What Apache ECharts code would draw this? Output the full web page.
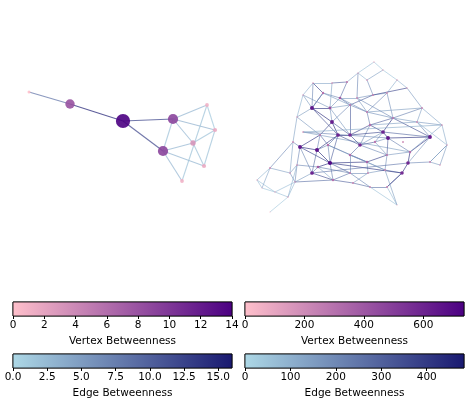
<!DOCTYPE html>
<html><head><meta charset="utf-8">
<script src="https://cdn.jsdelivr.net/npm/echarts@6/dist/echarts.min.js"></script>
<style>html,body{margin:0;padding:0;background:#fff}#c{width:474px;height:406px}</style>
</head><body><div id="c"></div>
<script>
// Left network (small graph)
const leftNodeX = [29, 70, 123, 173, 163, 207, 215, 193, 204, 182];
const leftNodeY = [92, 104, 121, 119, 151, 105, 130, 143, 166, 181];
const leftNodeBet = [0, 8, 14, 9, 9, 1, 1.5, 3, 1.5, 1];
const leftEdges = [[0,1],[1,2],[2,3],[2,4],[3,5],[3,6],[3,7],[3,4],[4,7],[4,8],[4,9],[5,9],[7,6],[7,8],[6,8],[5,6]];
const leftEdgeBet = [9, 16, 13, 13, 3, 3.5, 3, 2, 3, 3, 3, 2, 2, 2, 2, 1.5];
const leftVertexMax = 14, leftEdgeMax = 16;

// Right network (large graph)
const rightNodeX = [374,383,358,347,367,397,407,332,313,303,323,340,357,373,387,312,297,330,350,367,393,422,417,430,442,447,383,388,370,350,338,332,320,300,293,317,328,360,375,350,330,318,297,367,387,410,408,430,440,402,385,368,350,312,290,270,257,262,275,288,295,333,353,370,387,397,270,403,303];
const rightNodeY = [62,70,73,82,80,80,88,83,83,95,93,98,98,95,93,108,117,108,105,112,118,108,122,137,125,145,132,138,125,135,135,122,135,147,142,150,145,145,142,155,163,167,165,162,155,152,163,162,165,173,170,173,173,173,173,168,180,188,192,197,182,180,183,187,187,205,212,142,132];
const rightNodeBet = [60,80,90,250,150,120,100,160,140,110,300,380,200,220,180,650,120,420,260,240,260,200,180,620,150,110,600,640,300,560,600,620,260,640,180,660,300,560,280,320,700,380,160,340,260,300,580,220,140,560,220,200,240,600,150,180,60,50,70,120,140,300,220,200,220,40,20,200,150];
const rightEdges = [[1,2],[1,3],[2,6],[3,4],[3,5],[5,14],[4,8],[4,12],[8,9],[9,10],[9,11],[10,17],[11,16],[11,12],[12,13],[13,14],[14,15],[15,6],[6,7],[7,22],[22,25],[22,23],[25,26],[26,49],[23,24],[24,21],[21,27],[27,28],[28,24],[15,21],[13,20],[20,29],[29,27],[12,19],[19,30],[18,32],[16,18],[16,32],[17,35],[35,34],[34,33],[33,32],[32,31],[31,30],[30,29],[31,37],[37,36],[36,34],[36,41],[41,42],[42,43],[43,55],[55,56],[56,57],[57,58],[58,59],[59,60],[60,61],[61,54],[54,42],[54,62],[62,63],[63,64],[64,65],[65,50],[50,47],[47,48],[48,49],[47,46],[46,24],[46,69],[69,28],[28,45],[45,44],[44,41],[44,40],[40,38],[38,39],[39,27],[38,30],[40,53],[53,52],[52,51],[51,50],[51,45],[53,62],[65,66],[60,67],[56,35],[43,34],[16,10],[19,20],[41,53],[36,33],[70,33],[70,35],[70,16],[18,19],[20,21],[29,38],[31,41],[39,45],[44,52],[26,48],[25,23],[23,21],[17,16],[37,40],[57,59],[64,66],[2,5],[8,18],[22,21],[34,54],[43,61],[12,18],[3,13],[36,54],[62,41],[50,65],[24,47],[7,14],
 [16,31],[32,30],[31,38],[30,27],[27,24],[36,31],[34,41],[41,50],[54,47],[32,19],[19,14],[16,11],[17,33],[35,55],[55,61],[61,62],[42,53],[37,44],[38,45],[39,28],[29,23],[20,22],[13,21],[18,30],[33,37],[37,41],[40,51],[44,51],[45,46],[46,25],[48,26],[52,63],[53,64],[62,42],[17,70],[70,32],[10,18],[11,19],[12,20],[21,29],[28,46],[27,38],[23,26],[59,61],[58,56],[43,60],[66,51],[69,25],[15,20],[9,16]];
const rightEdgeBet = [40,60,50,120,80,180,300,250,120,100,380,90,400,200,150,170,120,100,90,160,120,140,110,150,200,350,420,440,430,180,160,220,380,260,300,160,420,460,130,200,420,360,450,440,380,250,200,450,460,440,200,150,140,90,60,50,60,80,150,200,350,300,260,240,420,430,200,150,440,440,150,200,300,380,420,200,250,300,200,350,200,180,160,200,180,250,60,40,200,200,150,200,300,200,100,120,150,150,180,200,300,150,150,120,160,150,150,100,60,60,140,130,220,200,180,160,200,260,220,300,160,
 380,350,300,320,360,280,400,380,420,250,200,300,150,160,120,180,260,220,240,200,180,140,150,200,160,280,200,180,150,160,120,150,140,200,120,160,180,160,140,170,300,220,160,80,70,120,90,150,110,200];
const rightVertexMax = 737, rightEdgeMax = 482;

function hex(c){return [parseInt(c.slice(1,3),16),parseInt(c.slice(3,5),16),parseInt(c.slice(5,7),16)];}
function interp(c1,c2,t){t=Math.max(0,Math.min(1,t));const a=hex(c1),b=hex(c2);return 'rgb('+a.map((v,i)=>Math.round(v+(b[i]-v)*t)).join(',')+')';}
const V0='#ffc0cb',V1='#4b0082',E0='#add8e6',E1='#191970';

const leftData = leftNodeX.map((x,i)=>({value:[x,leftNodeY[i]],symbolSize:3+leftNodeBet[i]*0.8,
  itemStyle:{color:interp(V0,V1,leftNodeBet[i]/leftVertexMax),opacity:0.9}}));
const leftLinks = leftEdges.map((e,i)=>({source:e[0],target:e[1],
  lineStyle:{color:interp(E0,E1,leftEdgeBet[i]/leftEdgeMax),width:1.1,opacity:0.7}}));
const rightData = rightNodeX.map((x,i)=>({value:[x,rightNodeY[i]],symbolSize:1+rightNodeBet[i]/220,
  itemStyle:{color:interp(V0,V1,rightNodeBet[i]/rightVertexMax)}}));
const rightLinks = rightEdges.map((e,i)=>({source:e[0]-1,target:e[1]-1,
  lineStyle:{color:interp(E0,E1,rightEdgeBet[i]/rightEdgeMax),width:0.9,opacity:0.7}}));

const font='DejaVu Sans';
function barGrid(left,top,width){return {left:left,top:top,width:width,height:14,show:true,borderColor:'#000',borderWidth:0.8};}
function barX(gi,max,interval,name,fmt,showMax){return {gridIndex:gi,type:'value',min:0,max:max,interval:interval,
  axisLine:{show:false},splitLine:{show:false},axisTick:{show:true,length:3,lineStyle:{color:'#000'}},
  axisLabel:{color:'#000',fontFamily:font,fontSize:10.5,margin:4,showMaxLabel:showMax,formatter:fmt},
  name:name,nameLocation:'middle',nameGap:20,nameTextStyle:{color:'#000',fontFamily:font,fontSize:10.5}};}
function barY(gi){return {gridIndex:gi,type:'value',min:0,max:1,show:false};}
function barSeries(gi,max,c0,c1){return {type:'custom',xAxisIndex:gi,yAxisIndex:gi,data:[[0,max]],silent:true,
  renderItem:function(p,api){const a=api.coord([0,0]),b=api.coord([max,1]);
    return {type:'rect',shape:{x:a[0],y:b[1],width:b[0]-a[0],height:a[1]-b[1]},
      style:{fill:new echarts.graphic.LinearGradient(0,0,1,0,[{offset:0,color:c0},{offset:1,color:c1}]),stroke:'#000',lineWidth:0.8}};}};}

const option={animation:false,
 grid:[{left:0,top:0,width:237,height:290,show:false},{left:237,top:0,width:237,height:290,show:false},
   barGrid(13,302,219),barGrid(245,302,219),barGrid(13,354,219),barGrid(245,354,219)],
 xAxis:[{gridIndex:0,min:0,max:237,show:false},{gridIndex:1,min:237,max:474,show:false},
   barX(2,14,2,'Vertex Betweenness',undefined,true),barX(3,rightVertexMax,200,'Vertex Betweenness',undefined,false),
   barX(4,16,2.5,'Edge Betweenness',v=>v.toFixed(1),false),barX(5,rightEdgeMax,100,'Edge Betweenness',undefined,false)],
 yAxis:[{gridIndex:0,min:0,max:290,inverse:true,show:false},{gridIndex:1,min:0,max:290,inverse:true,show:false},
   barY(2),barY(3),barY(4),barY(5)],
 series:[
  {type:'graph',coordinateSystem:'cartesian2d',xAxisIndex:0,yAxisIndex:0,layout:'none',data:leftData,links:leftLinks,z:2},
  {type:'graph',coordinateSystem:'cartesian2d',xAxisIndex:1,yAxisIndex:1,layout:'none',data:rightData,links:rightLinks,z:2},
  barSeries(2,14,V0,V1),barSeries(3,rightVertexMax,V0,V1),barSeries(4,16,E0,E1),barSeries(5,rightEdgeMax,E0,E1)]};
const chart=echarts.init(document.getElementById('c'));
chart.setOption(option);
</script></body></html>
